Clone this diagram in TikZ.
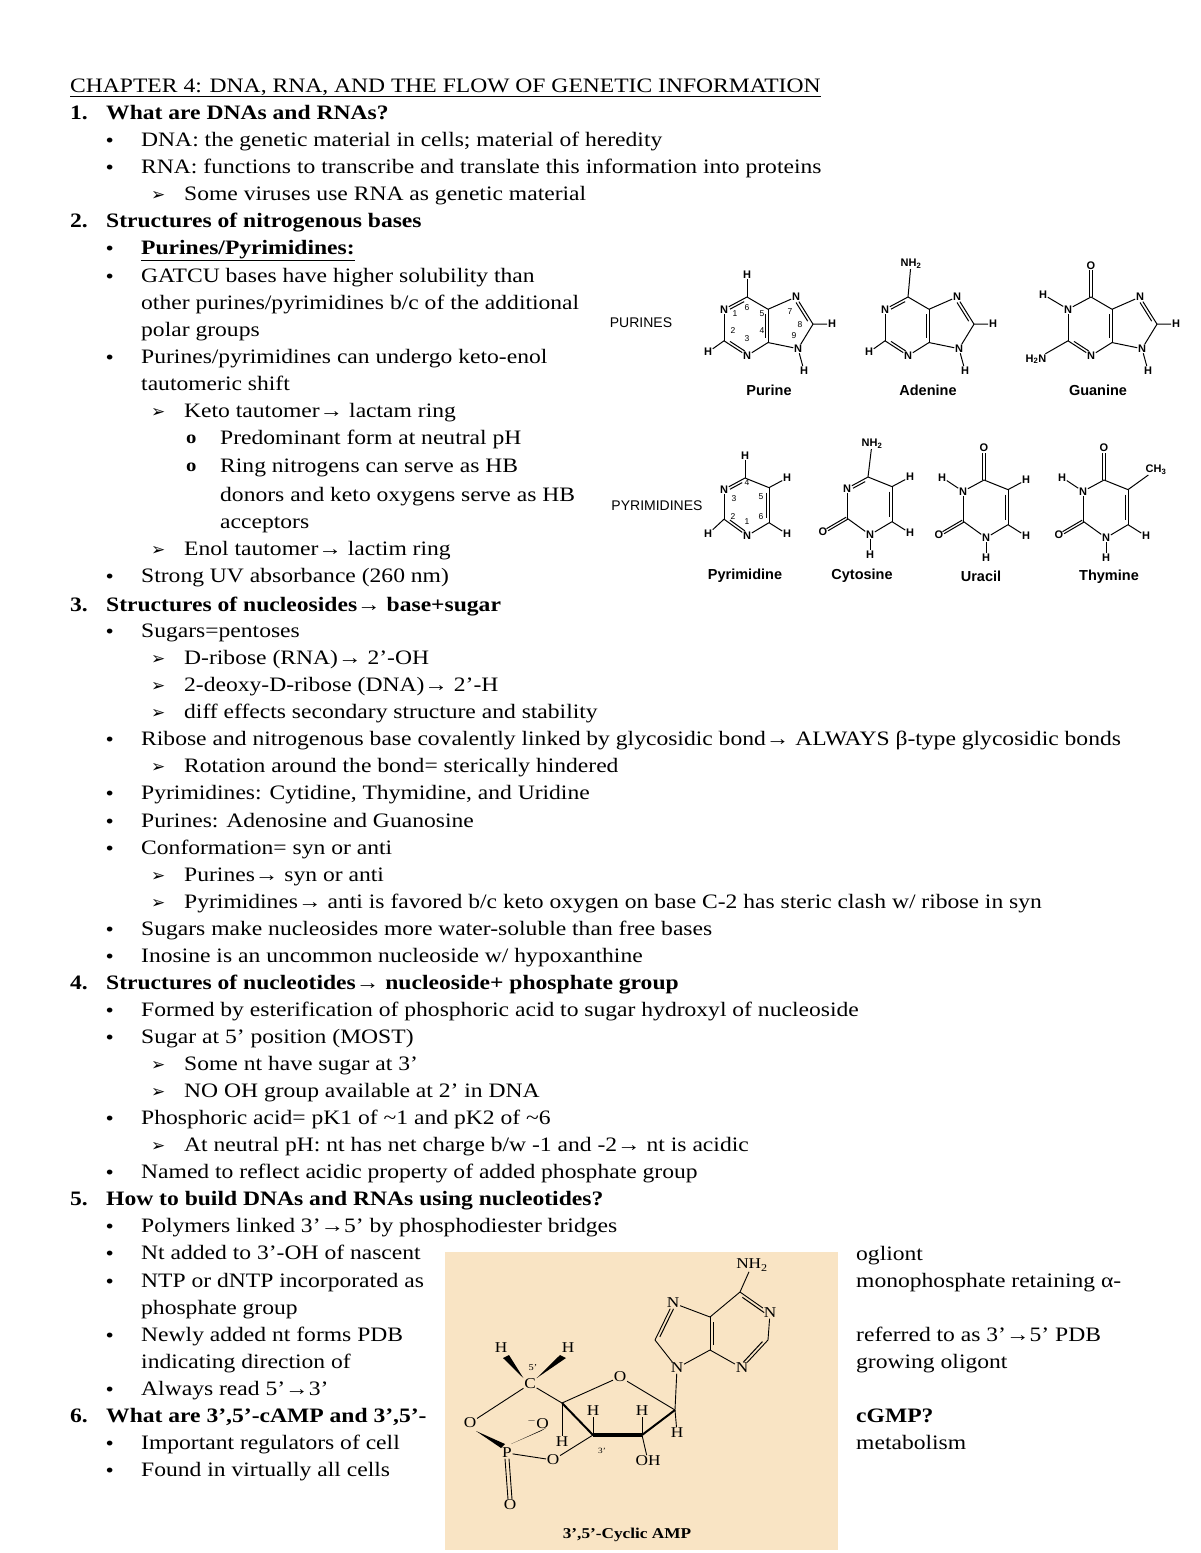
\documentclass[tikz,border=0pt]{standalone}
\usepackage{fontspec}
\setmainfont[FakeStretch=1.15]{Liberation Serif}
\newfontfamily\sfa{Liberation Sans}
\newfontfamily\dv{DejaVu Sans}
\usetikzlibrary{calc}
\definecolor{campbg}{RGB}{249,228,196}
\newcommand\myT[3]{\node[txt] at (#1,#2+7) {#3};}
\newcommand\myB[2]{\node[txt,font=\fontsize{18}{22}\selectfont\bfseries] at (106,#1+7) {•};\myT{141}{#1}{#2}}
\newcommand\myA[2]{\node[txt,font=\fontsize{17}{20}\dv] at (151,#1+7) {➢};\myT{184}{#1}{#2}}
\newcommand\myO[2]{\node[txt,font=\fontsize{18}{20}\selectfont\bfseries] at (186,#1+6) {o};\myT{220}{#1}{#2}}
\newcommand\myH[3]{\node[txt,font=\fontsize{20.5}{24}\selectfont\bfseries] at (70,#1+7) {#2};\node[txt,font=\fontsize{20.5}{24}\selectfont\bfseries] at (106,#1+7) {#3};}
% double bond: main line + inner parallel line
\newcommand\dbond[4][]{\draw[bond,#1] (#2) -- (#3); \draw[bond,shorten <=5pt,shorten >=5pt] ($(#2)!#4!90:(#3)$) -- ($(#3)!#4!-90:(#2)$);}
% exocyclic double bond: two symmetric lines
\newcommand\xbond[2]{\draw[bond,shorten >=5pt] ($(#1)!1.4pt!90:(#2)$) -- ($(#2)!1.4pt!-90:(#1)$); \draw[bond,shorten >=5pt] ($(#1)!-1.4pt!90:(#2)$) -- ($(#2)!-1.4pt!-90:(#1)$);}
\newcommand\purskel[2]{%
\begin{scope}[shift={#2},yscale=0.876]
\node[atom] (#1n1) at (-23,14) {N};
\coordinate (#1c6) at (0,0);
\coordinate (#1c5) at (21,14);
\coordinate (#1c4) at (21,52);
\node[atom] (#1n3) at (0,67) {N};
\coordinate (#1c2) at (-23,50);
\node[atom] (#1n7) at (49,0) {N};
\coordinate (#1c8) at (66,31);
\node[atom] (#1n9) at (51,59) {N};
\draw[bond] (#1c6) -- (#1c5);
\draw[bond] (#1n3) -- (#1c4);
\draw[bond] (#1c2) -- (#1n1);
\draw[bond] (#1c5) -- (#1n7);
\draw[bond] (#1c8) -- (#1n9) -- (#1c4);
\dbond{#1c5}{#1c4}{-3pt}
\dbond{#1n7}{#1c8}{-3pt}
\dbond{#1n3}{#1c2}{-3pt}
\end{scope}}
\newcommand\pyrskel[2]{%
\begin{scope}[shift={#2},yscale=0.876]
\coordinate (#1c4) at (0,0);
\node[atom] (#1n3) at (-21,13) {N};
\coordinate (#1c2) at (-21,47);
\node[atom] (#1n1) at (2,66) {N};
\coordinate (#1c6) at (24,51);
\coordinate (#1c5) at (24,11);
\draw[bond] (#1c4) -- (#1c5);
\dbond{#1c5}{#1c6}{-3pt}
\draw[bond] (#1c6) -- (#1n1);
\draw[bond] (#1n3) -- (#1c2);
\end{scope}}
\begin{document}
\begin{tikzpicture}[x=1pt,y=-1pt,
 txt/.style={anchor=base west,inner sep=0pt,font=\fontsize{20.5}{24}\selectfont},
 atom/.style={inner sep=0.6pt,fill=white,font=\fontsize{11}{12}\sfa\bfseries},
 num/.style={inner sep=0pt,font=\fontsize{8.5}{9}\sfa},
 mname/.style={inner sep=0pt,font=\fontsize{14.5}{16}\sfa\bfseries},
 bond/.style={line width=1pt},
 cat/.style={inner sep=0.6pt,fill=campbg,font=\fontsize{15}{16}\selectfont},
 cb/.style={line width=0.9pt}]
\useasboundingbox (0,0) rectangle (1200,1553);
\fill[white] (0,0) rectangle (1200,1553);
% ---------- text ----------
\myT{70}{85}{\underline{CHAPTER 4: DNA, RNA, AND THE FLOW OF GENETIC INFORMATION}}
\myH{112}{1.}{What are DNAs and RNAs?}
\myB{139}{DNA: the genetic material in cells; material of heredity}
\myB{166}{RNA: functions to transcribe and translate this information into proteins}
\myA{193}{Some viruses use RNA as genetic material}
\myH{220}{2.}{Structures of nitrogenous bases}
\myB{247}{\textbf{\underline{Purines/Pyrimidines:}}}
\myB{275}{GATCU bases have higher solubility than}
\myT{141}{302}{other purines/pyrimidines b/c of the additional}
\myT{141}{329}{polar groups}
\myB{356}{Purines/pyrimidines can undergo keto-enol}
\myT{141}{383}{tautomeric shift}
\myA{410}{Keto tautomer→ lactam ring}
\myO{437}{Predominant form at neutral pH}
\myO{465}{Ring nitrogens can serve as HB}
\myT{220}{494}{donors and keto oxygens serve as HB}
\myT{220}{521}{acceptors}
\myA{548}{Enol tautomer→ lactim ring}
\myB{575}{Strong UV absorbance (260 nm)}
\myH{604}{3.}{Structures of nucleosides→ base+sugar}
\myB{630}{Sugars=pentoses}
\myA{657}{D-ribose (RNA)→ 2’-OH}
\myA{684}{2-deoxy-D-ribose (DNA)→ 2’-H}
\myA{711}{diff effects secondary structure and stability}
\myB{738}{Ribose and nitrogenous base covalently linked by glycosidic bond→ ALWAYS β-type glycosidic bonds}
\myA{765}{Rotation around the bond= sterically hindered}
\myB{792}{Pyrimidines: Cytidine, Thymidine, and Uridine}
\myB{820}{Purines: Adenosine and Guanosine}
\myB{847}{Conformation= syn or anti}
\myA{874}{Purines→ syn or anti}
\myA{901}{Pyrimidines→ anti is favored b/c keto oxygen on base C-2 has steric clash w/ ribose in syn}
\myB{928}{Sugars make nucleosides more water-soluble than free bases}
\myB{955}{Inosine is an uncommon nucleoside w/ hypoxanthine}
\myH{982}{4.}{Structures of nucleotides→ nucleoside+ phosphate group}
\myB{1009}{Formed by esterification of phosphoric acid to sugar hydroxyl of nucleoside}
\myB{1036}{Sugar at 5’ position (MOST)}
\myA{1063}{Some nt have sugar at 3’}
\myA{1090}{NO OH group available at 2’ in DNA}
\myB{1117}{Phosphoric acid= pK1 of \textasciitilde1 and pK2 of \textasciitilde6}
\myA{1144}{At neutral pH: nt has net charge b/w -1 and -2→ nt is acidic}
\myB{1171}{Named to reflect acidic property of added phosphate group}
\myH{1198}{5.}{How to build DNAs and RNAs using nucleotides?}
\myB{1225}{Polymers linked 3’→5’ by phosphodiester bridges}
\myB{1252}{Nt added to 3’-OH of nascent}
\myB{1280}{NTP or dNTP incorporated as}
\myT{141}{1307}{phosphate group}
\myB{1334}{Newly added nt forms PDB}
\myT{141}{1361}{indicating direction of}
\myB{1388}{Always read 5’→3’}
\myH{1415}{6.}{What are 3’,5’-cAMP and 3’,5’-}
\myB{1442}{Important regulators of cell}
\myB{1469}{Found in virtually all cells}
\myT{856}{1253}{ogliont}
\myT{856}{1280}{monophosphate retaining α-}
\myT{856}{1334}{referred to as 3’→5’ PDB}
\myT{856}{1361}{growing oligont}
\node[txt,font=\fontsize{20.5}{24}\selectfont\bfseries] at (856,1422) {cGMP?};
\myT{856}{1442}{metabolism}
% ---------- purines ----------
\node[inner sep=0pt,font=\fontsize{14}{16}\sfa] (lpur) at (641,323) {PURINES};
\node[inner sep=0pt,font=\fontsize{14}{16}\sfa] (lpyr) at (657,506) {PYRIMIDINES};
\purskel{p}{(747,297)}
\begin{scope}[shift={(747,297)},yscale=0.876]
\node[atom] (pht) at (0,-26) {H}; \draw[bond] (pc6) -- (pht); \dbond{pn1}{pc6}{-3pt}
\node[atom] (phl) at (-39,63) {H}; \draw[bond] (pc2) -- (phl);
\node[atom] (phr) at (85,31) {H}; \draw[bond] (pc8) -- (phr);
\node[atom] (phb) at (57,84) {H}; \draw[bond] (pn9) -- (phb);
\node[num] at (-12,19) {1}; \node[num] at (0,12) {6}; \node[num] at (15,19) {5};
\node[num] at (-14,38) {2}; \node[num] at (0,48) {3}; \node[num] at (15,38) {4};
\node[num] at (43,17) {7}; \node[num] at (53,31) {8}; \node[num] at (47,44) {9};
\node[mname] (npur) at (22,107) {Purine};
\end{scope}
\purskel{a}{(908,297)}
\begin{scope}[shift={(908,297)},yscale=0.876]
\node[atom] (aht) at (3,-38) {NH\textsubscript{2}}; \draw[bond] (ac6) -- (aht); \dbond{an1}{ac6}{-3pt}
\node[atom] (ahl) at (-39,63) {H}; \draw[bond] (ac2) -- (ahl);
\node[atom] (ahr) at (85,31) {H}; \draw[bond] (ac8) -- (ahr);
\node[atom] (ahb) at (57,84) {H}; \draw[bond] (an9) -- (ahb);
\node[mname] (nade) at (20,107) {Adenine};
\end{scope}
\purskel{g}{(1091,297)}
\begin{scope}[shift={(1091,297)},yscale=0.876]
\node[atom] (got) at (0,-36) {O}; \xbond{gc6}{got} \draw[bond] (gn1) -- (gc6);
\node[atom] (gh1) at (-48,-3) {H}; \draw[bond] (gn1) -- (gh1);
\node[atom] (ghl) at (-55,71) {H\textsubscript{2}N}; \draw[bond] (gc2) -- (ghl);
\node[atom] (ghr) at (85,31) {H}; \draw[bond] (gc8) -- (ghr);
\node[atom] (ghb) at (57,84) {H}; \draw[bond] (gn9) -- (ghb);
\node[mname] (ngua) at (7,107) {Guanine};
\end{scope}
% ---------- pyrimidines ----------
\pyrskel{y}{(745,478)}
\begin{scope}[shift={(745,478)},yscale=0.876]
\node[atom] (yht) at (0,-26) {H}; \draw[bond] (yc4) -- (yht);
\dbond{yn3}{yc4}{-3pt} \dbond{yn1}{yc2}{-3pt}
\node[atom] (yh5) at (42,0) {H}; \draw[bond] (yc5) -- (yh5);
\node[atom] (yh6) at (42,64) {H}; \draw[bond] (yc6) -- (yh6);
\node[atom] (yh2) at (-37,64) {H}; \draw[bond] (yc2) -- (yh2);
\node[num] at (2,5) {4}; \node[num] at (-11,23) {3}; \node[num] at (16,21) {5};
\node[num] at (-12,44) {2}; \node[num] at (2,50) {1}; \node[num] at (16,44) {6};
\node[mname] (npyr) at (0,112) {Pyrimidine};
\end{scope}
\pyrskel{c}{(868,477)}
\begin{scope}[shift={(868,477)},yscale=0.876]
\node[atom] (cht) at (4,-38) {NH\textsubscript{2}}; \draw[bond] (cc4) -- (cht);
\dbond{cn3}{cc4}{-3pt} \draw[bond] (cc2) -- (cn1);
\node[atom] (co2) at (-45,63) {O}; \xbond{cc2}{co2}
\node[atom] (chn) at (2,89) {H}; \draw[bond] (cn1) -- (chn);
\node[atom] (ch5) at (42,0) {H}; \draw[bond] (cc5) -- (ch5);
\node[atom] (ch6) at (42,64) {H}; \draw[bond] (cc6) -- (ch6);
\node[mname] (ncyt) at (-6,113) {Cytosine};
\end{scope}
\pyrskel{u}{(984,480)}
\begin{scope}[shift={(984,480)},yscale=0.876]
\node[atom] (uot) at (0,-37) {O}; \xbond{uc4}{uot}
\draw[bond] (un3) -- (uc4); \draw[bond] (uc2) -- (un1);
\node[atom] (uh3) at (-42,-3) {H}; \draw[bond] (un3) -- (uh3);
\node[atom] (uo2) at (-45,63) {O}; \xbond{uc2}{uo2}
\node[atom] (uhn) at (2,89) {H}; \draw[bond] (un1) -- (uhn);
\node[atom] (uh5) at (42,0) {H}; \draw[bond] (uc5) -- (uh5);
\node[atom] (uh6) at (42,64) {H}; \draw[bond] (uc6) -- (uh6);
\node[mname] (nura) at (-3,110) {Uracil};
\end{scope}
\pyrskel{t}{(1104,480)}
\begin{scope}[shift={(1104,480)},yscale=0.876]
\node[atom] (tot) at (0,-37) {O}; \xbond{tc4}{tot}
\draw[bond] (tn3) -- (tc4); \draw[bond] (tc2) -- (tn1);
\node[atom] (th3) at (-42,-3) {H}; \draw[bond] (tn3) -- (th3);
\node[atom] (to2) at (-45,63) {O}; \xbond{tc2}{to2}
\node[atom] (thn) at (2,89) {H}; \draw[bond] (tn1) -- (thn);
\node[atom] (tch) at (52,-12) {CH\textsubscript{3}}; \draw[bond] (tc5) -- (tch);
\node[atom] (th6) at (42,64) {H}; \draw[bond] (tc6) -- (th6);
\node[mname] (nthy) at (5,110) {Thymine};
\end{scope}
% ---------- cyclic AMP ----------
\fill[campbg] (445,1252) rectangle (838,1550);
\node[cat] (k_nh2) at (752,1265) {NH\textsubscript{2}};
\coordinate (k_c6) at (740,1292);
\node[cat] (k_n1) at (770,1313) {N};
\coordinate (k_c2) at (768,1340);
\node[cat] (k_n3) at (742,1368) {N};
\coordinate (k_c4) at (710,1350);
\coordinate (k_c5) at (710,1317);
\node[cat] (k_n7) at (673,1303) {N};
\coordinate (k_c8) at (655,1340);
\node[cat] (k_n9) at (677,1368) {N};
\draw[cb] (k_nh2) -- (k_c6) -- (k_c5);
\dbond[cb]{k_c6}{k_n1}{-3pt}
\draw[cb] (k_n1) -- (k_c2);
\dbond[cb]{k_c2}{k_n3}{-3pt}
\draw[cb] (k_n3) -- (k_c4) -- (k_n9) -- (k_c8);
\dbond[cb]{k_c4}{k_c5}{-3pt}
\draw[cb] (k_c5) -- (k_n7);
\dbond[cb]{k_c8}{k_n7}{-3pt}
\coordinate (k_c1) at (675,1410);
\node[cat] (k_h1) at (677,1433) {H};
\node[cat] (k_o4) at (620,1377) {O};
\coordinate (k_c4p) at (562,1403);
\coordinate (k_c3) at (593,1435);
\coordinate (k_c2p) at (642,1435);
\draw[cb] (k_n9) -- (k_c1) -- (k_h1);
\draw[cb] (k_c1) -- (k_o4) -- (k_c4p);
\draw[line width=2pt] (k_c4p) -- (k_c3);
\draw[line width=3.5pt] (k_c3) -- (k_c2p);
\draw[line width=2pt] (k_c2p) -- (k_c1);
\node[cat] (k_h3) at (593,1411) {H}; \draw[cb] (k_c3) -- (k_h3);
\node[cat] (k_h2) at (642,1411) {H}; \draw[cb] (k_c2p) -- (k_h2);
\node[cat] (k_h4) at (562,1442) {H}; \draw[cb] (k_c4p) -- (k_h4);
\node[cat] (k_oh) at (648,1461) {OH}; \draw[cb] (k_c2p) -- (k_oh);
\node[inner sep=0pt,font=\fontsize{8}{9}\selectfont] at (602,1451) {3'};
\node[cat] (k_c5p) at (530,1384) {C};
\node[inner sep=0pt,font=\fontsize{9}{10}\selectfont] at (533,1368) {5'};
\draw[cb] (k_c5p) -- (k_c4p);
\node[cat] (k_hl) at (501,1348) {H};
\node[cat] (k_hr) at (568,1348) {H};
\fill (k_c5p.north west) -- ($(k_hl)+(2,10)$) -- ($(k_hl)+(8,7)$) -- cycle;
\fill (k_c5p.north east) -- ($(k_hr)+(-2,10)$) -- ($(k_hr)+(-8,7)$) -- cycle;
\node[cat] (k_ol) at (470,1423) {O};
\node[cat] (k_p) at (507,1453) {P};
\node[cat] (k_o3) at (553,1460) {O};
\node[cat] (k_om) at (538,1423) {$^{-}$O};
\node[cat] (k_od) at (510,1505) {O};
\draw[cb] (k_c5p) -- (k_ol);
\fill ($(k_ol)+(6,8)$) -- ($(k_p)+(-6,-5)$) -- ($(k_p)+(-2,-9)$) -- cycle;
\fill ($(k_p)+(4,-9)$) -- ($(k_om)+(3,8)$) -- ($(k_om)+(8,5)$) -- cycle;
\draw[cb] (k_p) -- (k_o3) -- (k_c3);
\draw[cb] ($(k_p.south)+(-2,0)$) -- ($(k_od.north)+(-2,0)$);
\draw[cb] ($(k_p.south)+(2,0)$) -- ($(k_od.north)+(2,0)$);
\node[inner sep=0pt,font=\fontsize{15}{17}\selectfont\bfseries] (k_cap) at (627,1535) {3',5'-Cyclic AMP};
\end{tikzpicture}
\end{document}
